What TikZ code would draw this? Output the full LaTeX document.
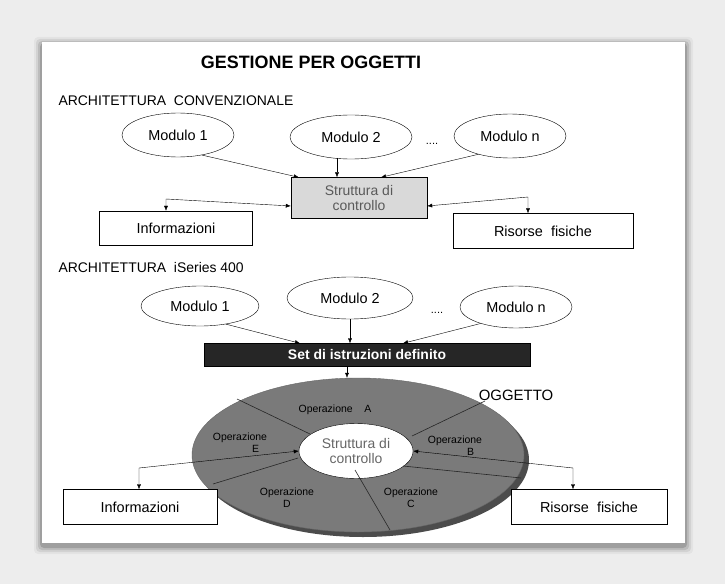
\documentclass[tikz,border=0pt]{standalone}
\usepackage{fontspec}
\setmainfont{Liberation Sans}
\usetikzlibrary{shapes.geometric,arrows.meta}
\begin{document}
\begin{tikzpicture}[x=1bp,y=-1bp,
  mod/.style={draw,ellipse,fill=white,minimum width=112bp,minimum height=44bp,inner sep=0pt,font=\fontsize{14.5}{15}\selectfont},
  box/.style={draw,fill=white,inner sep=0pt,font=\fontsize{14.5}{15}\selectfont},
  conn/.style={-{Latex[length=5bp,width=4bp]}},
  bconn/.style={{Latex[length=5bp,width=4bp]}-{Latex[length=5bp,width=4bp]}},
  op/.style={font=\fontsize{10.5}{12}\selectfont,align=center},
  divl/.style={draw=black!85,line width=0.6pt}]
\useasboundingbox (0,0) rectangle (725,584);
\fill[white!93!black] (0,0) rectangle (725,584);
% frame shadow
\foreach \i/\o in {8/0.04,6/0.07,4/0.1,2/0.15}{
  \fill[black,opacity=\o,rounded corners=4] (42-\i,42-\i+3) rectangle (685+\i,543+\i+3);}
\fill[white] (42,42) rectangle (685,543);
\node[font=\bfseries\fontsize{18}{20}\selectfont] (title) at (311,62) {GESTIONE PER OGGETTI};
\node[anchor=west,font=\fontsize{14}{15}\selectfont] (h1) at (55,101) {ARCHITETTURA\ \ CONVENZIONALE};
% top part
\node[mod] (m1) at (178,135) {Modulo 1};
\node[mod,minimum width=122bp] (m2) at (351,137) {Modulo 2};
\node[font=\fontsize{11}{12}\selectfont] (dots1) at (432,144) {....};
\node[mod] (mn) at (510,136) {Modulo n};
\node[draw,fill=black!15,minimum width=136bp,minimum height=41bp,align=center,text=black!65,font=\fontsize{14}{16}\selectfont] (sc) at (359,198) {Struttura di\\controllo};
\node[box,minimum width=153bp,minimum height=34bp] (inf1) at (176,228) {Informazioni};
\node[box,minimum width=180bp,minimum height=35bp] (ris1) at (543,231) {Risorse\ \ fisiche};
\draw[conn] (m1.-40) -- ([xshift=8bp]sc.north west);
\coordinate (a2) at (337,158);
\draw[conn] (a2) -- (a2|-sc.north);
\draw[conn] (mn.-150) -- ([xshift=22bp]sc.north);
\coordinate (i1) at (166,199);
\draw[bconn] (inf1.north-|i1) -- (i1) -- ([yshift=-8bp]sc.west);
\coordinate (r1) at (528,197);
\draw[bconn] ([yshift=-8bp]sc.east) -- (r1) -- (ris1.north-|r1);
% bottom part
\node[anchor=west,font=\fontsize{14}{15}\selectfont] (h2) at (55,268) {ARCHITETTURA\ \ iSeries 400};
\node[mod,minimum width=118bp,minimum height=40bp] (b1) at (200,306) {Modulo 1};
\node[mod,minimum width=126bp,minimum height=42bp] (b2) at (350,298) {Modulo 2};
\node[font=\fontsize{11}{12}\selectfont] (dots2) at (437,313) {....};
\node[mod,minimum width=112bp,minimum height=42bp] (bn) at (516,307) {Modulo n};
\node[draw,fill=black!85,text=white,minimum width=326bp,minimum height=23bp,inner sep=0pt,font=\bfseries\fontsize{14}{15}\selectfont] (set) at (367,355) {Set di istruzioni definito};
\draw[conn] (b1.-35) -- ([xshift=-67bp]set.north);
\draw[conn] (b2.south) -- (b2.south|-set.north);
\draw[conn] (bn.-155) -- ([xshift=36bp]set.north);
% big ellipse
\fill[black!70] (363,460) ellipse [x radius=166bp, y radius=77bp];
\node[draw=black!60,ellipse,fill=black!52,minimum width=332bp,minimum height=154bp] (obj) at (358,455) {};
\coordinate (s) at (347,366);
\draw[conn] (s) -- (s|-obj.north);
\node[draw,ellipse,fill=white,minimum width=114bp,minimum height=55bp,inner sep=0pt,align=center,text=black!60,font=\fontsize{14}{16}\selectfont] (sc2) at (356,451) {Struttura di\\controllo};
\coordinate (d1a) at (237,399); \coordinate (d1b) at (310,434);
\coordinate (d2a) at (485,401); \coordinate (d2b) at (412,436);
\coordinate (d3a) at (403,466); \coordinate (d3b) at (521,478);
\coordinate (d4a) at (355,470); \coordinate (d4b) at (390,530);
\coordinate (d5a) at (298,458); \coordinate (d5b) at (213,484);
\draw[divl] (d1a) -- (d1b); \draw[divl] (d2a) -- (d2b);
\draw[divl] (d3a) -- (d3b); \draw[divl] (d4a) -- (d4b);
\draw[divl] (d5a) -- (d5b);
\node[op] (opA) at (335,410) {Operazione\ \ \ \ A};
\node[op] (opE) at (240,443) {Operazione\\\hspace*{3em}E};
\node[op] (opB) at (455,446) {Operazione\\\hspace*{3em}B};
\node[op] (opD) at (287,498) {Operazione\\D};
\node[op] (opC) at (411,498) {Operazione\\C};
\node[font=\fontsize{15}{16}\selectfont] (ogg) at (516,395) {OGGETTO};
\node[box,minimum width=154bp,minimum height=35bp] (inf2) at (140,507) {Informazioni};
\node[box,minimum width=156bp,minimum height=35bp] (ris2) at (589,507) {Risorse\ \ fisiche};
\coordinate (i2) at (139,468);
\draw[bconn] (inf2.north-|i2) -- (i2) -- (sc2.west);
\coordinate (r2) at (573,468);
\draw[bconn] (sc2.east) -- (r2) -- (ris2.north-|r2);
\end{tikzpicture}
\end{document}
